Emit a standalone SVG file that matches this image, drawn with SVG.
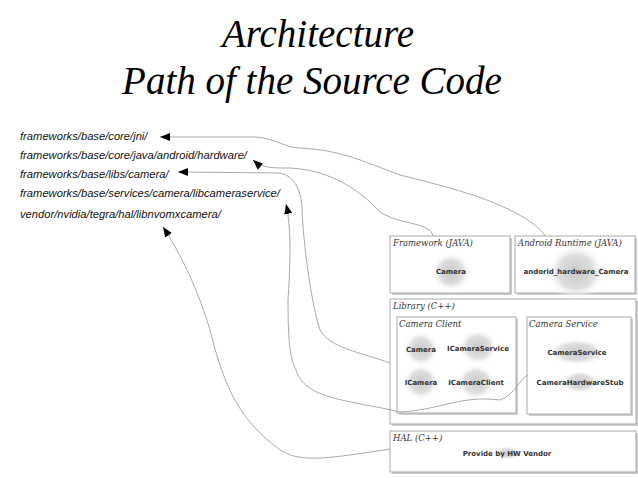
<svg xmlns="http://www.w3.org/2000/svg" width="638" height="478" viewBox="0 0 638 478">
<style>
.t{font-family:"Liberation Serif",serif;font-style:italic;font-size:39px;fill:#000}
.p{font-family:"Liberation Sans",sans-serif;font-style:italic;font-size:11.2px;fill:#111}
.box{fill:#fff;stroke:#aaa;stroke-width:1}
.sh{fill:#ccc}
.h{font-family:"DejaVu Serif",serif;font-style:italic;font-size:8.5px;fill:#333}
.n{font-family:"DejaVu Sans",sans-serif;font-weight:bold;font-size:7px;fill:#333;text-anchor:middle}
.c{fill:none;stroke:#aaa;stroke-width:1;marker-start:url(#ah)}
</style>
<defs>
<marker id="ah" viewBox="0 0 10 10" refX="0" refY="5" markerWidth="10" markerHeight="10" orient="auto" markerUnits="userSpaceOnUse"><path d="M0,5 L10,1 L10,9 Z" fill="#000"/></marker>
<radialGradient id="g"><stop offset="0" stop-color="#c8c8c8"/><stop offset="0.6" stop-color="#dedede"/><stop offset="1" stop-color="#fff" stop-opacity="0"/></radialGradient>
</defs>
<rect width="638" height="478" fill="#fff"/>
<text class="t" x="318" y="47" text-anchor="middle">Architecture</text>
<text class="t" x="312" y="94" text-anchor="middle">Path of the Source Code</text>
<g id="paths">
<text class="p" x="20" y="140">frameworks/base/core/jni/</text>
<text class="p" x="20" y="159">frameworks/base/core/java/android/hardware/</text>
<text class="p" x="20" y="178">frameworks/base/libs/camera/</text>
<text class="p" x="20" y="197">frameworks/base/services/camera/libcameraservice/</text>
<text class="p" x="20" y="218">vendor/nvidia/tegra/hal/libnvomxcamera/</text>
</g>
<g id="framework"><rect class="sh" x="392" y="238" width="120" height="57"/><rect class="box" x="390" y="236" width="120" height="57"/><text class="h" x="393" y="246">Framework (JAVA)</text><ellipse cx="451" cy="272" rx="20" ry="20" fill="url(#g)"/><text class="n" x="451" y="274">Camera</text></g>
<g id="runtime"><rect class="sh" x="517" y="238" width="120" height="57"/><rect class="box" x="515" y="236" width="120" height="57"/><text class="h" x="518" y="246">Android Runtime (JAVA)</text><ellipse cx="576" cy="272" rx="30" ry="28" fill="url(#g)"/><text class="n" x="576" y="274">andorid_hardware_Camera</text></g>
<g id="library"><rect class="sh" x="392" y="301" width="246" height="125"/><rect class="box" x="390" y="299" width="246" height="125"/><text class="h" x="393" y="309">Library (C++)</text></g>
<g id="client"><rect class="sh" x="399" y="319" width="119" height="96"/><rect class="box" x="397" y="317" width="119" height="96"/><text class="h" x="399" y="327">Camera Client</text>
<ellipse cx="421" cy="349" rx="18" ry="18" fill="url(#g)"/><text class="n" x="421" y="352">Camera</text>
<ellipse cx="478" cy="347" rx="20" ry="18" fill="url(#g)"/><text class="n" x="478" y="351">ICameraService</text>
<ellipse cx="421" cy="382" rx="18" ry="18" fill="url(#g)"/><text class="n" x="421" y="385">ICamera</text>
<ellipse cx="476" cy="382" rx="20" ry="18" fill="url(#g)"/><text class="n" x="476" y="385">ICameraClient</text></g>
<g id="service"><rect class="sh" x="529" y="319" width="104" height="97"/><rect class="box" x="527" y="317" width="104" height="97"/><text class="h" x="529" y="327">Camera Service</text>
<ellipse cx="577" cy="352" rx="30" ry="14" fill="url(#g)"/><text class="n" x="577" y="355">CameraService</text>
<ellipse cx="580" cy="382" rx="20" ry="12" fill="url(#g)"/><text class="n" x="580" y="385">CameraHardwareStub</text></g>
<g id="hal"><rect class="sh" x="392" y="433" width="246" height="41"/><rect class="box" x="390" y="431" width="246" height="41"/><text class="h" x="393" y="441">HAL (C++)</text><ellipse cx="507" cy="453" rx="14" ry="7" fill="url(#g)"/><text class="n" x="507" y="456">Provide by HW Vendor</text></g>
<g id="connectors">
<path class="c" d="M160,137 L255,137 C275,138 285,148 300,148 C340,150 360,160 400,175 C440,185 480,195 510,210 C530,220 540,228 545,236"/>
<path class="c" d="M253,160 C262,168 270,168 290,168 C330,170 360,190 380,212 C400,225 430,222 433,236"/>
<path class="c" d="M178,172 L280,173 C295,176 300,190 302,205 C302,230 310,300 320,330 C330,348 360,352 390,363"/>
<path class="c" d="M286,204 C292,230 290,270 288,300 C288,340 290,360 296,370 C305,400 350,400 400,412 C440,410 460,395 500,400 C515,395 520,378 528,375"/>
<path class="c" d="M163,227 C175,245 195,280 210,330 C225,390 240,420 280,450 C300,462 320,460 390,449"/>
</g>
</svg>
